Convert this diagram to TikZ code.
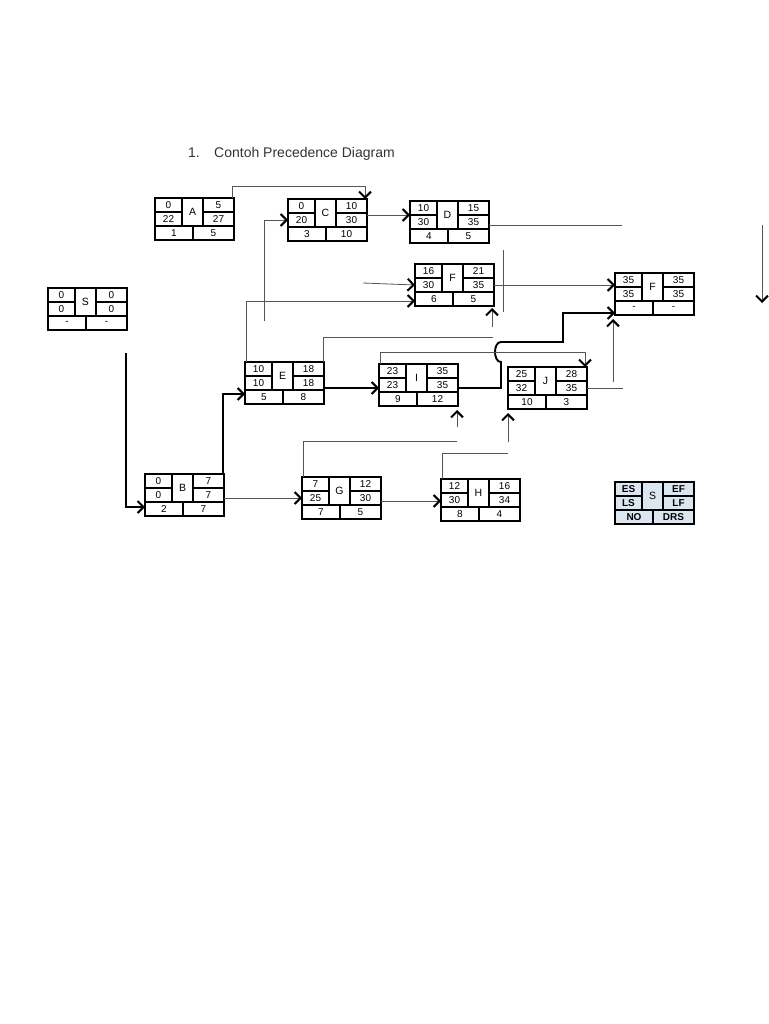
\documentclass[tikz,border=0pt]{standalone}
\usepackage{fontspec}
\setmainfont{Liberation Sans}
\usetikzlibrary{arrows.meta,fit}

\definecolor{legendblue}{HTML}{DCE6F1}
\definecolor{linkgray}{HTML}{555555}

\tikzset{
  cell/.style={draw, line width=1.2pt, inner sep=0pt, outer sep=0pt, minimum height=14pt, font=\fontsize{10}{11}\selectfont},
  boxline/.style={draw, line width=1.9pt, inner sep=0pt, outer sep=0pt},
  link/.style={draw=linkgray, line width=0.8pt},
  crit/.style={draw=black, line width=1.9pt},
  arr/.style={-{Straight Barb[length=6pt,width=12pt,line width=2pt,color=black]}}
}

\newcommand{\actbox}[9]{%
  \node[cell, minimum width=27pt, anchor=north west] (#1-es) at (#2) {#4};
  \node[cell, minimum width=27pt, anchor=north] (#1-ls) at (#1-es.south) {#6};
  \node[cell, minimum width=21pt, minimum height=28pt, anchor=north west, font=\fontsize{10.5}{11}\selectfont] (#1-id) at (#1-es.north east) {#3};
  \node[cell, minimum width=31pt, anchor=north west] (#1-ef) at (#1-id.north east) {#5};
  \node[cell, minimum width=31pt, anchor=north] (#1-lf) at (#1-ef.south) {#7};
  \node[cell, minimum width=38pt, anchor=north west] (#1-no) at (#1-ls.south west) {#8};
  \node[cell, minimum width=41pt, anchor=north west] (#1-drs) at (#1-no.north east) {#9};
  \node[boxline, fit=(#1-es)(#1-drs)] (#1) {};
}

\begin{document}
\begin{tikzpicture}[x=1pt,y=-1pt]
\path[use as bounding box] (0,0) rectangle (768,1024);
\node[anchor=base west,inner sep=0pt,text=black!80,font=\fontsize{14}{16}\selectfont] (num) at (188,158) {1.};
\node[anchor=base west,inner sep=0pt,text=black!80,font=\fontsize{14}{16}\selectfont] (title) at (214,158) {Contoh Precedence Diagram};

\actbox{S}{48,288}{S}{0}{0}{0}{0}{-}{-}
\actbox{A}{155,198}{A}{0}{5}{22}{27}{1}{5}
\actbox{C}{288,199}{C}{0}{10}{20}{30}{3}{10}
\actbox{D}{410,201}{D}{10}{15}{30}{35}{4}{5}
\actbox{Fa}{415,264}{F}{16}{21}{30}{35}{6}{5}
\actbox{Fz}{615,273}{F}{35}{35}{35}{35}{-}{-}
\actbox{E}{245,362}{E}{10}{18}{10}{18}{5}{8}
\actbox{I}{379,364}{I}{23}{35}{23}{35}{9}{12}
\actbox{J}{508,367}{J}{25}{28}{32}{35}{10}{3}
\actbox{B}{145,474}{B}{0}{7}{0}{7}{2}{7}
\actbox{G}{302,477}{G}{7}{12}{25}{30}{7}{5}
\actbox{H}{441,479}{H}{12}{16}{30}{34}{8}{4}
\begin{scope}[cell/.append style={fill=legendblue, font=\fontsize{10}{11}\selectfont\bfseries}]
\actbox{K}{615,482}{S}{ES}{EF}{LS}{LF}{NO}{DRS}
\end{scope}

\coordinate (s0) at (126,353);
\coordinate (c0) at (264,321);
\coordinate (f0) at (363,283);
\coordinate (d1) at (622,225);
\coordinate (j1) at (623,388);
\coordinate (dn0) at (762,225);
\coordinate (dn1) at (762,303);

\draw[crit,arr] (s0) |- ([yshift=2pt]B-no.west);
\draw[crit,arr] ([xshift=-1pt]B.north east) |- ([yshift=3pt]E-no.west);
\draw[link,arr] (B.east |- G-ls.west) -- (G-ls.west);
\draw[link,arr] ([yshift=-3pt]G.east) -- ([yshift=-3pt]G.east -| H.west);
\draw[link] ([xshift=1pt]G.north west) |- (457,441);
\draw[link,arr,shorten >=4pt] (457,427) -- ([xshift=-1pt]I.south east);
\draw[link] ([xshift=1pt]H.north west) |- (508,453);
\draw[link,arr,shorten >=4pt] (508,442) -- (J.south west);
\draw[crit,arr] ([yshift=-5pt]E.east) -- ([yshift=-5pt]E.east -| I.west);
\draw[crit,arr] ([yshift=-3pt]I.east) -- (501,388) -- (501,362) .. controls (493,362) and (493,342) .. (501,342) -- (563,342) -- (563,313) -- ([yshift=-5pt]Fz-no.west);
\draw[link,arr] ([xshift=1pt]I.north west) |- (585,352) -- ([xshift=-2pt]J.north east);
\draw[link] ([xshift=-1pt]E.north east) |- (493,337);
\draw[link,arr] ([xshift=1pt]E.north west) |- ([yshift=-2pt]Fa-no.west);
\draw[link,arr] (c0) |- (C-ls.west);
\draw[link,arr] ([xshift=-2pt]A.north east) |- (365,186) -- ([xshift=-2pt]C.north east);
\draw[link,arr] ([yshift=5pt]C.east) -- ([yshift=5pt]C.east -| D.west);
\draw[link] ([yshift=-3pt]D.east) -- (d1);
\draw[link,arr] (f0) -- (Fa-ls.west);
\draw[link,arr] (Fa.east) -- (Fa.east -| Fz.west);
\draw[link] (503,250) -- (503,312);
\draw[link,arr,shorten >=2pt] (492,327) -- ([xshift=-2pt]Fa.south east);
\draw[link] (J.east) -- (j1);
\draw[link,arr,shorten >=4pt] (613,382) -- (Fz.south west -| 613,0);
\draw[link,arr] (dn0) -- (dn1);
\end{tikzpicture}
\end{document}
